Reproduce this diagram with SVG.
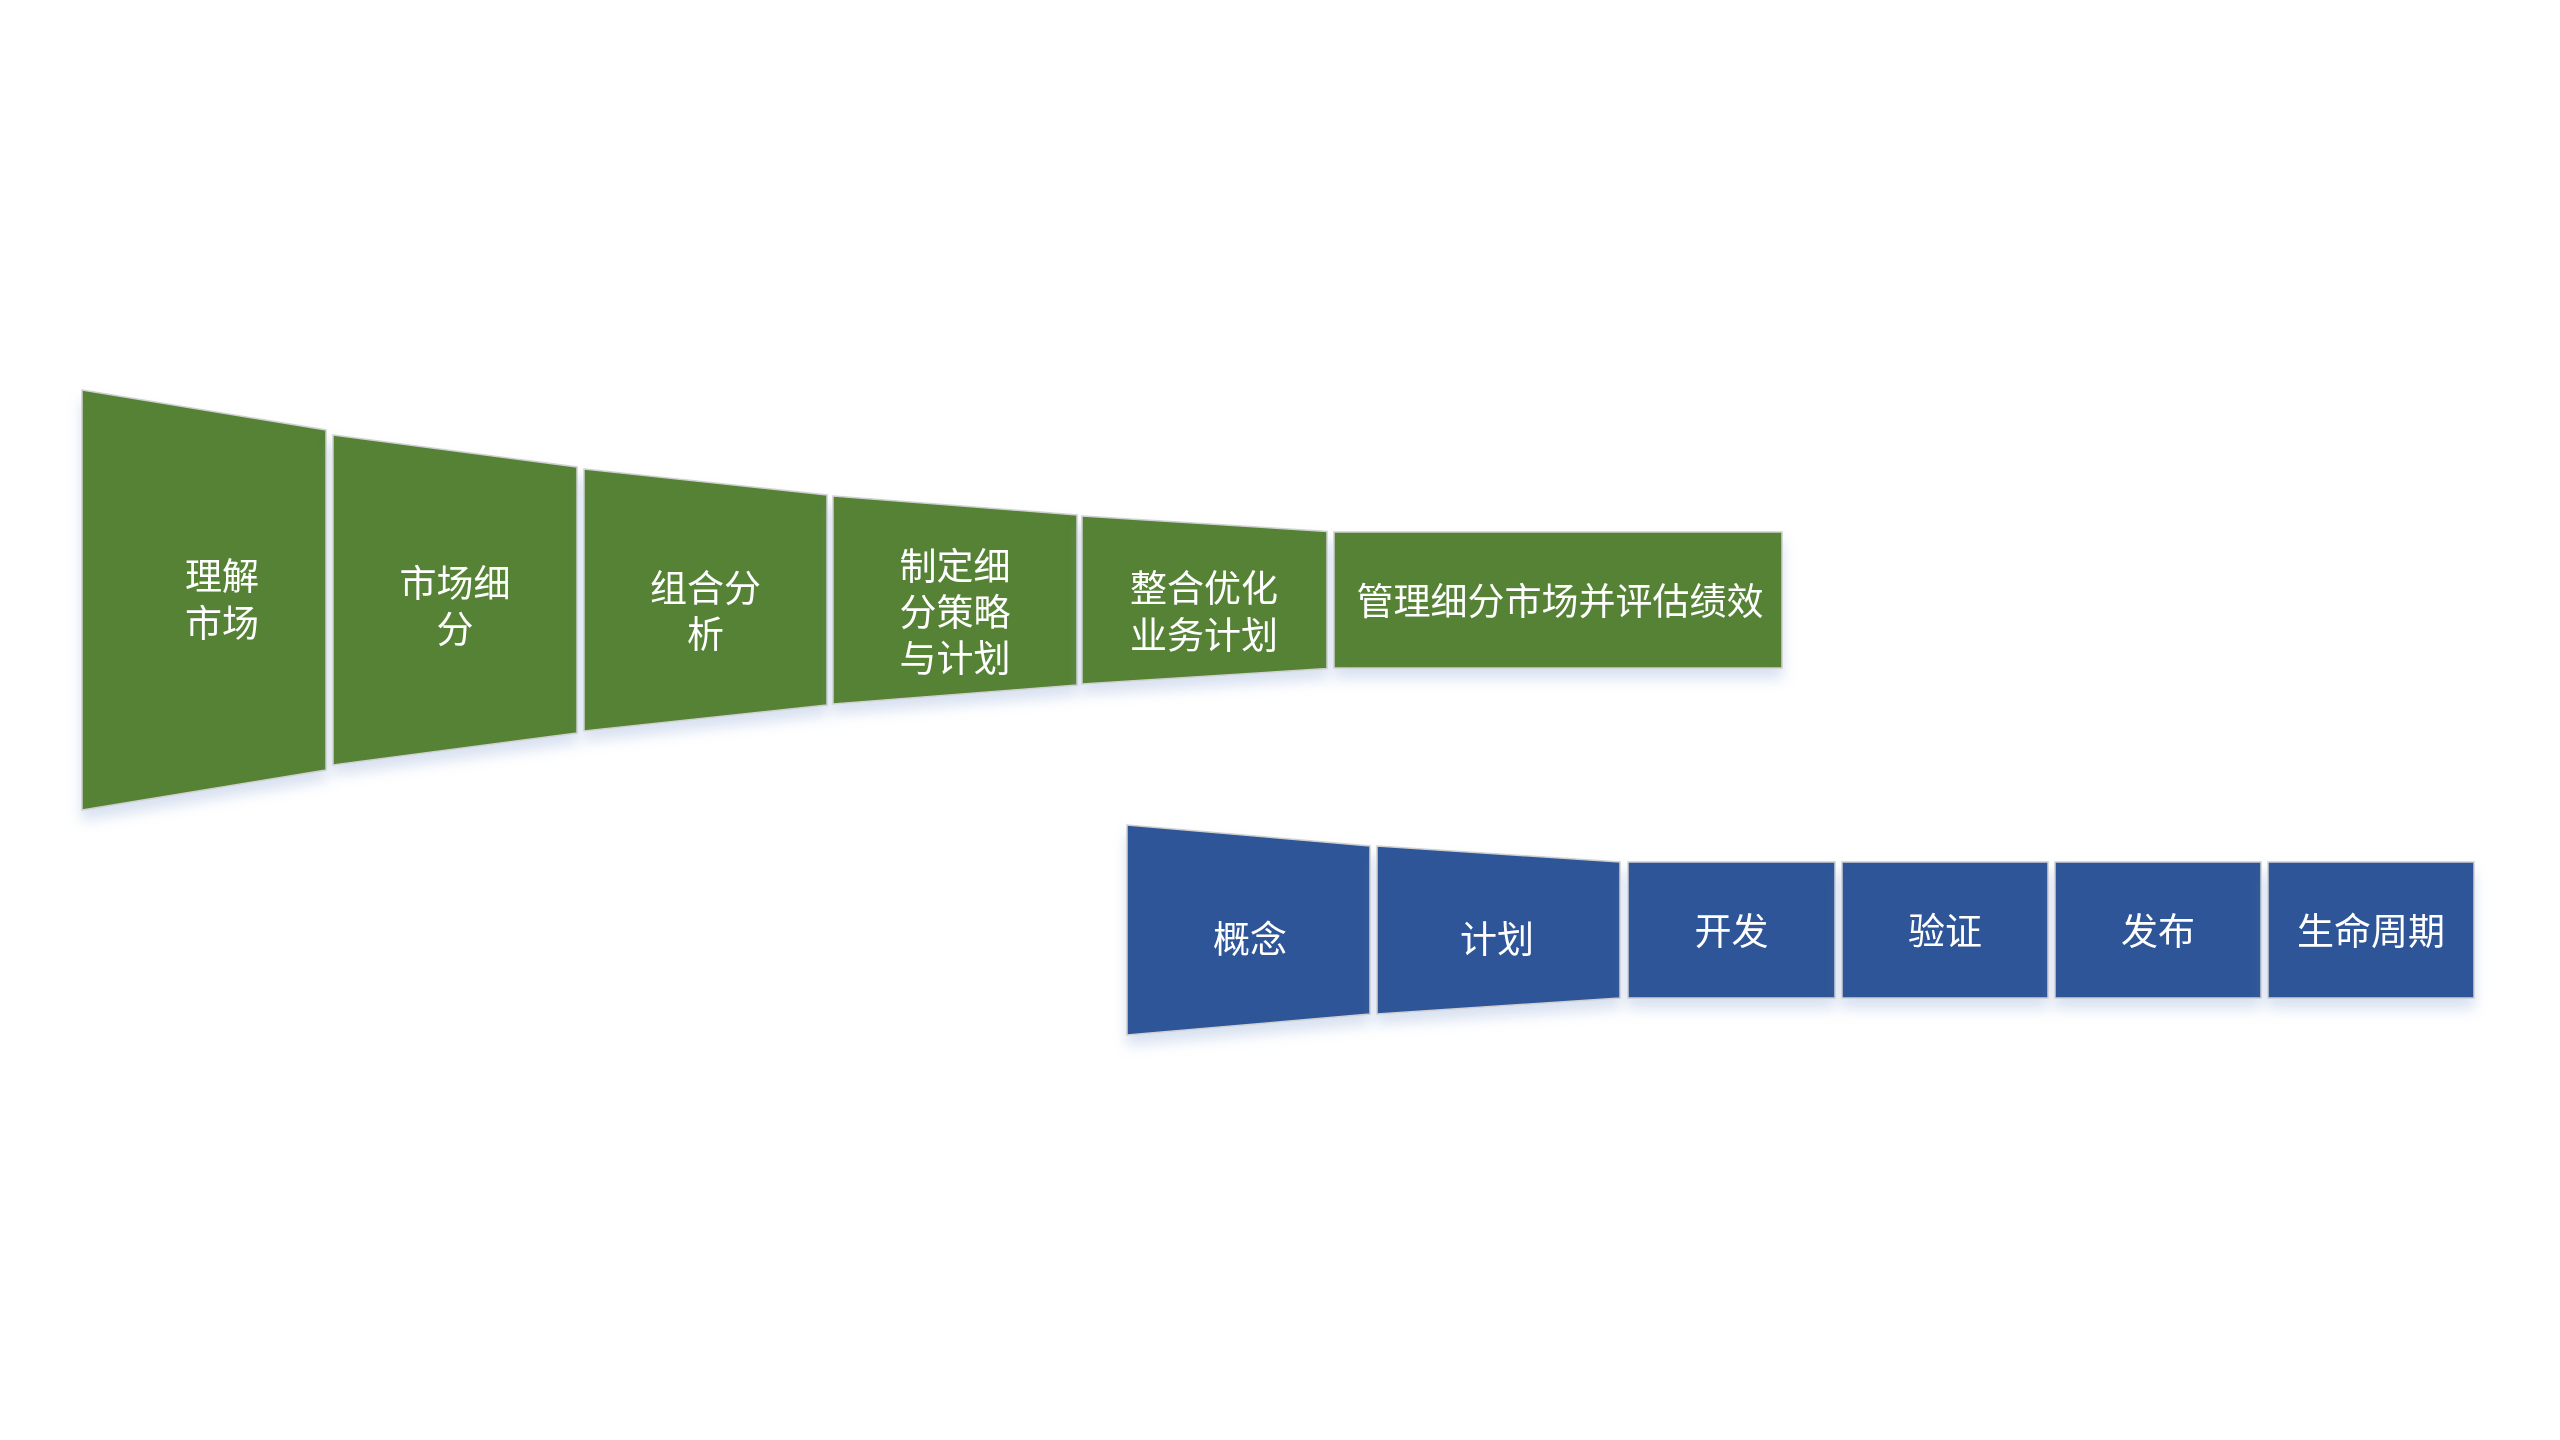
<svg xmlns="http://www.w3.org/2000/svg" width="2560" height="1440" viewBox="0 0 2560 1440">
  <defs>
    <filter id="shadow" x="-10%" y="-20%" width="120%" height="150%">
      <feGaussianBlur in="SourceAlpha" stdDeviation="7" result="blur"/>
      <feOffset in="blur" dx="0" dy="10" result="off"/>
      <feFlood flood-color="#8fa9d6" flood-opacity="0.35"/>
      <feComposite in2="off" operator="in" result="sh"/>
      <feMerge>
        <feMergeNode in="sh"/>
        <feMergeNode in="SourceGraphic"/>
      </feMerge>
    </filter>
    <style>
      .g { fill: #548235; stroke: #d0d0d0; stroke-width: 1.5; }
      .b { fill: #2f5597; stroke: #d0d0d0; stroke-width: 1.5; }
      .t { font-family: "Liberation Sans", "Noto Sans CJK SC", sans-serif; font-size: 37px; fill: #ffffff; text-anchor: middle; }
    </style>
  </defs>
  <rect x="0" y="0" width="2560" height="1440" fill="#ffffff"/>

  <g id="connectors"/>

  <g id="node-g1" filter="url(#shadow)">
    <polygon class="g" points="82,390 326,430 326,770 82,810"/>
    <text class="t" x="222" y="590">理解</text>
    <text class="t" x="222" y="637">市场</text>
  </g>
  <g id="node-g2" filter="url(#shadow)">
    <polygon class="g" points="333,435 577,467 577,733 333,765"/>
    <text class="t" x="455" y="597">市场细</text>
    <text class="t" x="455" y="643">分</text>
  </g>
  <g id="node-g3" filter="url(#shadow)">
    <polygon class="g" points="584,469 827,495 827,705 584,731"/>
    <text class="t" x="705.5" y="602">组合分</text>
    <text class="t" x="705.5" y="648">析</text>
  </g>
  <g id="node-g4" filter="url(#shadow)">
    <polygon class="g" points="833,496 1077,515 1077,685 833,704"/>
    <text class="t" x="955" y="580">制定细</text>
    <text class="t" x="955" y="626">分策略</text>
    <text class="t" x="955" y="672">与计划</text>
  </g>
  <g id="node-g5" filter="url(#shadow)">
    <polygon class="g" points="1082,516 1327,531.5 1327,668.5 1082,684"/>
    <text class="t" x="1204" y="602">整合优化</text>
    <text class="t" x="1204" y="649">业务计划</text>
  </g>
  <g id="node-g6" filter="url(#shadow)">
    <rect class="g" x="1334" y="532" width="448" height="136"/>
    <text class="t" x="1560" y="615">管理细分市场并评估绩效</text>
  </g>

  <g id="node-b1" filter="url(#shadow)">
    <polygon class="b" points="1127,825 1370,846 1370,1014 1127,1035"/>
    <text class="t" x="1250" y="953">概念</text>
  </g>
  <g id="node-b2" filter="url(#shadow)">
    <polygon class="b" points="1377,846 1620,862 1620,998 1377,1014"/>
    <text class="t" x="1497" y="953">计划</text>
  </g>
  <g id="node-b3" filter="url(#shadow)">
    <rect class="b" x="1628" y="862" width="207" height="136"/>
    <text class="t" x="1731.5" y="945">开发</text>
  </g>
  <g id="node-b4" filter="url(#shadow)">
    <rect class="b" x="1842" y="862" width="206" height="136"/>
    <text class="t" x="1945" y="945">验证</text>
  </g>
  <g id="node-b5" filter="url(#shadow)">
    <rect class="b" x="2055" y="862" width="206" height="136"/>
    <text class="t" x="2158" y="945">发布</text>
  </g>
  <g id="node-b6" filter="url(#shadow)">
    <rect class="b" x="2268" y="862" width="206" height="136"/>
    <text class="t" x="2371" y="945">生命周期</text>
  </g>
</svg>
